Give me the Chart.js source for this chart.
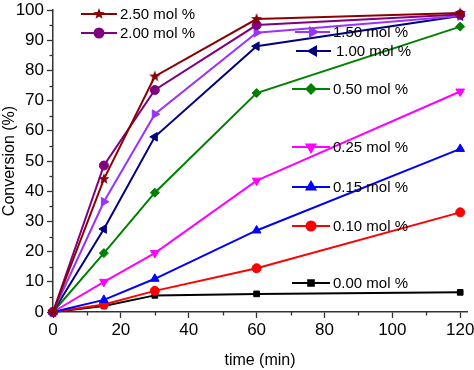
<!DOCTYPE html>
<html>
<head>
<meta charset="utf-8">
<script src="https://cdn.jsdelivr.net/npm/chart.js@4.4.1/dist/chart.umd.min.js"></script>
<style>
html,body{margin:0;padding:0;background:#fff;}
#wrap{width:474px;height:370px;position:relative;}
</style>
</head>
<body>
<div id="wrap"><canvas id="c" width="474" height="370"></canvas></div>
<script>
// ---- data ----
const times = [0, 15, 30, 60, 120];
const seriesLabels = ['2.50 mol %','2.00 mol %','1.50 mol %','1.00 mol %','0.50 mol %','0.25 mol %','0.15 mol %','0.10 mol %','0.00 mol %'];
const conv250 = [0, 44, 78, 97, 99];
const conv200 = [0, 48.5, 73.5, 95, 98.5];
const conv150 = [0, 36.5, 65.5, 92.5, 98];
const conv100 = [0, 27.5, 58, 88, 98];
const conv050 = [0, 19.5, 39.5, 72.5, 94.5];
const conv025 = [0, 10, 19.5, 43.5, 73];
const conv015 = [0, 4, 11, 27, 54];
const conv010 = [0, 2.5, 7, 14.5, 33];
const conv000 = [0, 2, 5.5, 6, 6.5];
const xTickValues = [0, 20, 40, 60, 80, 100, 120];
const yTickValues = [0, 10, 20, 30, 40, 50, 60, 70, 80, 90, 100];

const FONT = "'Liberation Sans', Arial, sans-serif";

function starCanvas(color, r) {
  const s = Math.ceil(r * 2 + 2);
  const cv = document.createElement('canvas');
  cv.width = s; cv.height = s;
  const g = cv.getContext('2d');
  g.fillStyle = color;
  g.beginPath();
  for (let i = 0; i < 10; i++) {
    const rad = i % 2 === 0 ? r : r * 0.42;
    const a = -Math.PI / 2 + i * Math.PI / 5;
    const x = s / 2 + rad * Math.cos(a), y = s / 2 + rad * Math.sin(a);
    if (i === 0) g.moveTo(x, y); else g.lineTo(x, y);
  }
  g.closePath();
  g.fill();
  return cv;
}

const styles = [
  {color:'#8B0000', pointStyle: starCanvas('#8B0000', 6), rotation:0, radius:5},
  {color:'#800080', pointStyle:'circle', rotation:0, radius:4.5},
  {color:'#9933FF', pointStyle:'triangle', rotation:90, radius:5},
  {color:'#000080', pointStyle:'triangle', rotation:270, radius:5},
  {color:'#008000', pointStyle:'rectRot', rotation:0, radius:4.5},
  {color:'#FF00FF', pointStyle:'triangle', rotation:180, radius:5},
  {color:'#0000FF', pointStyle:'triangle', rotation:0, radius:5},
  {color:'#FF0000', pointStyle:'circle', rotation:0, radius:4.5},
  {color:'#000000', pointStyle:'rect', rotation:0, radius:4},
];
const seriesValues = [conv250, conv200, conv150, conv100, conv050, conv025, conv015, conv010, conv000];

const datasets = seriesValues.map((vals, i) => ({
  label: seriesLabels[i],
  data: vals.map((v, k) => ({x: times[k], y: v})),
  borderColor: styles[i].color,
  backgroundColor: styles[i].color,
  borderWidth: 2,
  pointStyle: styles[i].pointStyle,
  pointRotation: styles[i].rotation,
  pointRadius: styles[i].radius,
  pointBorderWidth: 1,
  tension: 0,
  clip: false
}));

// legend placement (pixels): [lineStart, lineEnd, y, textX]
const legendPlace = [
  [81, 117, 14, 120],
  [81, 117, 33, 120],
  [295, 330, 32, 333],
  [296, 331, 51, 336],
  [292, 330, 89, 333],
  [292, 330, 147, 333],
  [292, 330, 187, 333],
  [292, 330, 226, 333],
  [292, 330, 283, 333],
];

const extras = {
  id: 'extras',
  afterDraw(chart) {
    const ctx = chart.ctx;
    const xs = chart.scales.x, ys = chart.scales.y;
    ctx.save();
    ctx.strokeStyle = '#333';
    ctx.lineWidth = 1.3;
    // minor ticks
    for (let v = 10; v < 122; v += 20) {
      const px = Math.round(xs.getPixelForValue(v)) + 0.5;
      ctx.beginPath(); ctx.moveTo(px, ys.bottom); ctx.lineTo(px, ys.bottom + 3.5); ctx.stroke();
    }
    for (let v = 5; v < 100; v += 10) {
      const py = Math.round(ys.getPixelForValue(v)) + 0.5;
      ctx.beginPath(); ctx.moveTo(xs.left, py); ctx.lineTo(xs.left - 3.5, py); ctx.stroke();
    }
    // legend
    chart.data.datasets.forEach((ds, i) => {
      const [x1, x2, y, tx] = legendPlace[i];
      ctx.strokeStyle = ds.borderColor;
      ctx.lineWidth = 2;
      ctx.beginPath(); ctx.moveTo(x1, y); ctx.lineTo(x2, y); ctx.stroke();
      ctx.fillStyle = ds.backgroundColor;
      Chart.helpers.drawPoint(ctx, {
        pointStyle: ds.pointStyle, radius: ds.pointRadius, rotation: ds.pointRotation, borderWidth: 1
      }, (x1 + x2) / 2, y);
      ctx.fillStyle = '#000';
      ctx.font = '15px ' + FONT;
      ctx.textAlign = 'left';
      ctx.textBaseline = 'middle';
      ctx.fillText(ds.label, tx, y + 1);
    });
    ctx.restore();
  }
};

new Chart(document.getElementById('c'), {
  type: 'line',
  data: { datasets },
  plugins: [extras],
  options: {
    responsive: false,
    animation: false,
    layout: { padding: { top: 10, right: 7, left: 0, bottom: 0 } },
    plugins: { legend: { display: false }, tooltip: { enabled: false } },
    scales: {
      x: {
        type: 'linear', min: 0, max: 122,
        afterBuildTicks: s => { s.ticks = xTickValues.map(v => ({value: v})); },
        afterFit: s => { s.height = 58; s.paddingLeft = 0; s.paddingRight = 0; },
        grid: { drawOnChartArea: false, drawTicks: true, tickLength: 6, color: '#333', tickWidth: 1.3 },
        border: { display: true, color: '#333', width: 1.5 },
        ticks: { color: '#000', font: { family: FONT, size: 17 }, padding: 2, maxRotation: 0 },
        title: { display: true, text: 'time (min)', color: '#000', font: { family: FONT, size: 16 }, padding: { top: 4, bottom: 0 } }
      },
      y: {
        type: 'linear', min: 0, max: 100,
        afterBuildTicks: s => { s.ticks = yTickValues.map(v => ({value: v})); },
        afterFit: s => { s.width = 53; s.paddingTop = 0; s.paddingBottom = 0; },
        grid: { drawOnChartArea: false, drawTicks: true, tickLength: 6, color: '#333', tickWidth: 1.3 },
        border: { display: true, color: '#333', width: 1.5 },
        ticks: { color: '#000', font: { family: FONT, size: 17 }, padding: 3 },
        title: { display: true, text: 'Conversion (%)', color: '#000', font: { family: FONT, size: 16 }, padding: { top: 0, bottom: 2 } }
      }
    }
  }
});
</script>
</body>
</html>
